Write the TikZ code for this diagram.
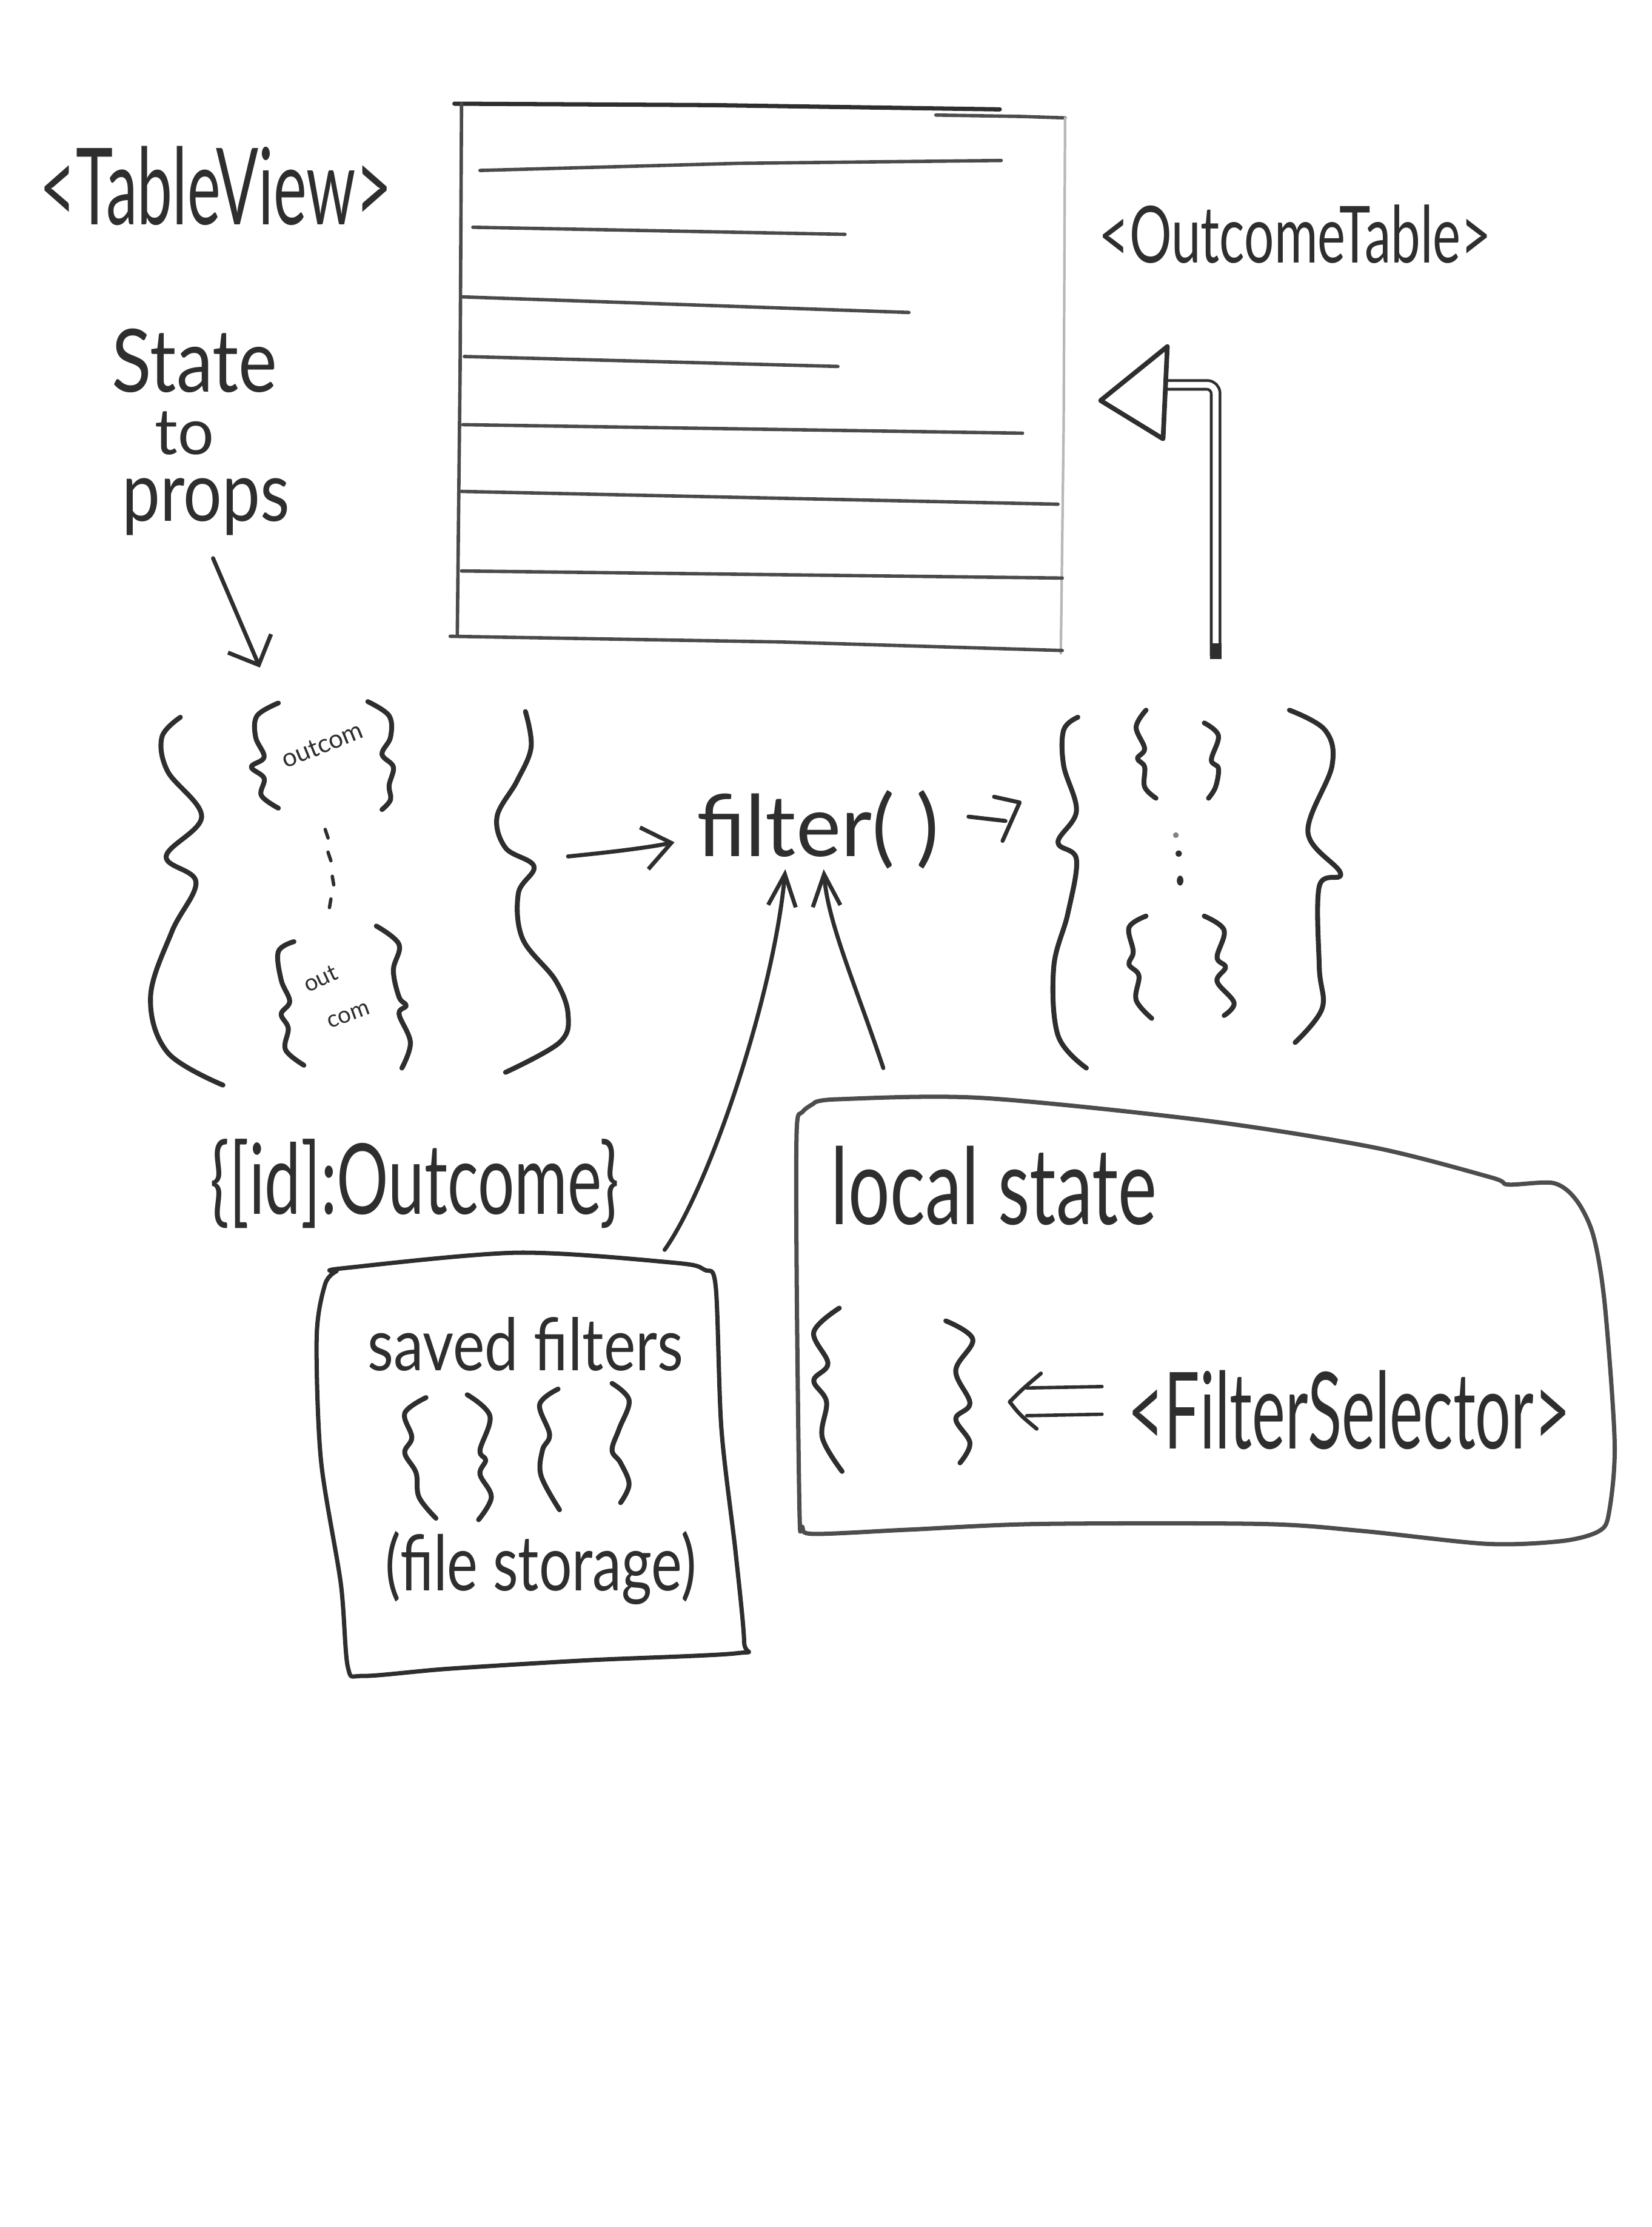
\documentclass[tikz,border=0pt]{standalone}
\usepackage{fontspec}
\usepackage{graphicx}
\setmainfont{Lato}
\usetikzlibrary{arrows.meta}
\definecolor{inkc}{HTML}{2E2E2E}
\definecolor{tablec}{HTML}{4A4A4A}
\definecolor{fadec}{HTML}{9A9A9A}
\newcommand{\hw}[3]{\fontsize{#1}{#1}\selectfont\scalebox{#2}[1]{#3}}
\tikzset{
  ink/.style={draw=inkc, line width=2pt, line cap=round, line join=round},
  bracepen/.style={ink, line width=2.3pt},
  tline/.style={draw=tablec, line width=1.6pt, line cap=round},
  txt/.style={text=inkc, inner sep=0pt, anchor=base},
  conn/.style={ink, line width=1.9pt},
  barb/.style={-{Straight Barb[length=#1]}},
}
\begin{document}
\begin{tikzpicture}[x=0.2343mm, y=-0.2343mm]
\useasboundingbox (0,0) rectangle (1163,1568);

% ---------------- table ----------------
\draw[tline, draw=inkc, line width=2pt] (320,73) -- (500,74) -- (704,77);
\draw[tline, draw=inkc!85] (659,81) -- (720,82) -- (750,83);
\draw[tline] (325,73) -- (324,260) -- (322,448);
\draw[tline, draw=fadec!70, line width=1.2pt] (750,83) -- (749,300) -- (747,460);
\draw[tline] (317,448) -- (550,452) -- (748,458);
\draw[tline] (338,120) -- (520,115) -- (705,113);
\draw[tline] (333,160) -- (595,165);
\draw[tline] (325,209) -- (640,220);
\draw[tline] (327,251) -- (590,258);
\draw[tline] (326,299) -- (720,305);
\draw[tline] (325,346) -- (745,355);
\draw[tline] (325,402) -- (748,407);

% ---------------- labels top ----------------
\node[txt] (tv) at (152,158) {\hw{50}{0.59}{<TableView>}};
\node[txt] (ot) at (912,185) {\hw{37}{0.67}{<OutcomeTable>}};
\node[txt] (st) at (137,276) {\hw{41}{0.84}{State}};
\node[txt] (to) at (130,320) {\hw{30}{1}{to}};
\node[txt] (pr) at (145,367) {\hw{39}{0.82}{props}};

\coordinate (paS) at (150,393);
\coordinate (paE) at (183,470);
\draw[conn, barb=11pt] (paS) -- (paE);

% ---------------- left map {id: outcome} ----------------
\draw[bracepen] plot[smooth, tension=0.6] coordinates {(127,505) (114,519) (118,543) (142,575) (117,603) (138,621) (121,656) (106,702) (118,741) (157,764)};
\draw[bracepen] plot[smooth, tension=0.6] coordinates {(370,501) (374,526) (364,550) (350,575) (356,597) (376,610) (365,629) (368,661) (391,690) (400,714) (394,734) (356,755)};
% inner top
\draw[bracepen] plot[smooth, tension=0.6] coordinates {(196,495) (181,504) (180,519) (186,533) (177,540) (186,548) (184,560) (196,569)};
\draw[bracepen] plot[smooth, tension=0.6] coordinates {(259,494) (274,504) (275,519) (269,531) (277,540) (274,553) (275,563) (269,570)};
\node[txt, rotate=22] (oc1) at (229,530) {\hw{12}{1}{outcom}};
% dots
\draw[ink, line width=1.6pt] (229,584) -- (231,590);
\draw[ink, line width=1.6pt] (231,600) -- (233,606);
\draw[ink, line width=1.6pt] (234,617) -- (235,623);
\draw[ink, line width=1.6pt] (233,633) -- (232,639);
% inner bottom
\draw[bracepen] plot[smooth, tension=0.6] coordinates {(207,663) (196,670) (198,690) (204,705) (198,714) (203,724) (201,739) (214,750)};
\draw[bracepen] plot[smooth, tension=0.6] coordinates {(265,652) (281,665) (277,683) (281,702) (286,708) (281,714) (289,734) (283,752)};
\node[txt, rotate=25] (oc2) at (228,694) {\hw{11}{1}{out}};
\node[txt, rotate=20] (oc3) at (247,719) {\hw{11}{1}{com}};

\node[txt] (idm) at (292,855) {\hw{46}{0.66}{\{[id]:Outcome\}}};

% ---------------- filter ----------------
\node[txt] (flt) at (576,603) {\hw{40}{1.0}{filter( )}};
\coordinate (lmE) at (400,603);
\coordinate (fW) at (475,593);
\draw[conn, -{Straight Barb[length=13pt,width=20pt]}] (lmE) .. controls (430,600) and (455,597) .. (fW);

\coordinate (dashS) at (682,575);
\coordinate (dashE) at (708,578);
\draw[conn] (dashS) -- (dashE);
\draw[conn] (700,561) -- (718,565) -- (706,592);

% ---------------- right output ----------------
\draw[bracepen] plot[smooth, tension=0.6] coordinates {(759,505) (749,514) (749,539) (758,571) (745,593) (758,605) (752,643) (742,681) (745,729) (765,752)};
\draw[bracepen] plot[smooth, tension=0.6] coordinates {(908,500) (933,514) (938,539) (921,586) (944,615) (929,624) (929,681) (931,710) (912,734)};
\draw[bracepen] plot[smooth, tension=0.6] coordinates {(807,500) (800,512) (806,527) (801,534) (806,540) (806,554) (814,562)};
\draw[bracepen] plot[smooth, tension=0.6] coordinates {(848,509) (858,518) (853,535) (858,541) (856,554) (851,562)};
\fill[inkc!60] (828,588) circle (2);
\fill[inkc] (830,601) circle (2.3);
\fill[inkc] (831,620) ellipse (2.3 and 3.5);
\draw[bracepen] plot[smooth, tension=0.6] coordinates {(807,645) (795,653) (798,670) (795,679) (802,687) (800,704) (811,717)};
\draw[bracepen] plot[smooth, tension=0.6] coordinates {(848,645) (862,655) (857,674) (863,681) (857,691) (869,706) (862,715)};

% hollow arrow to the table
\coordinate (oaS) at (856,462);
\coordinate (oaE) at (822,271);
\draw[draw=inkc, line width=1.3pt, double=white, double distance=2.8pt, rounded corners=4pt] (oaS) |- (oaE);
\draw[draw=inkc, line width=5.4pt] (856,453) -- (856,464);
\draw[ink, line width=2.2pt] (822,244) -- (775,282) -- (819,309) -- cycle;

% ---------------- saved filters box ----------------
\draw[ink] plot[smooth, tension=0.5] coordinates {(237,895) (241,893) (364,882) (474,889) (496,894) (504,906) (508,1006) (518,1093) (524,1156) (519,1164) (413,1169) (315,1175) (256,1180) (245,1174) (240,1115) (226,1028) (223,941) (229,904) (237,895)};
\node[txt] (sf) at (370,965) {\hw{34}{0.83}{saved filters}};
\draw[bracepen] plot[smooth, tension=0.6] coordinates {(300,984) (285,995) (290,1012) (285,1023) (293,1037) (295,1054) (307,1069)};
\draw[bracepen] plot[smooth, tension=0.6] coordinates {(329,982) (345,997) (338,1021) (342,1028) (338,1038) (346,1054) (337,1070)};
\draw[bracepen] plot[smooth, tension=0.6] coordinates {(393,978) (380,989) (387,1010) (382,1021) (381,1039) (394,1063)};
\draw[bracepen] plot[smooth, tension=0.6] coordinates {(431,974) (443,986) (436,1006) (431,1021) (437,1030) (443,1045) (437,1058)};
\node[txt] (fs) at (381,1120) {\hw{36}{0.76}{(file storage)}};

\coordinate (sfN) at (468,880);
\coordinate (fiA) at (553,612);
\draw[conn, -{Straight Barb[length=15pt,width=13pt]}] (sfN) .. controls (500,835) and (545,700) .. (fiA);

% ---------------- local state box ----------------
\draw[ink, draw=inkc!85] plot[smooth, tension=0.5] coordinates {(573,777) (589,774) (691,773) (849,789) (968,808) (1050,829) (1062,834) (1094,833) (1110,845) (1122,870) (1130,918) (1137,1016) (1133,1065) (1126,1078) (1100,1085) (1047,1087) (960,1078) (889,1073) (731,1073) (640,1077) (573,1080) (565,1075) (563,1065) (561,900) (561,796) (565,783) (573,777)};
\node[txt] (lst) at (700,862) {\hw{50}{0.69}{local state}};
\draw[bracepen] plot[smooth, tension=0.6] coordinates {(591,921) (573,938) (583,960) (573,972) (582,987) (579,1012) (593,1036)};
\draw[bracepen] plot[smooth, tension=0.6] coordinates {(666,930) (685,943) (673,965) (683,988) (673,999) (683,1016) (676,1030)};
\node[txt] (fsel) at (950,1020) {\hw{50}{0.59}{<FilterSelector>}};
\coordinate (fselW) at (776,986);
\coordinate (lsE) at (711,987);
\draw[ink, line width=1.6pt] ([yshift=-6.5]fselW) -- ([xshift=8, yshift=-6.5]lsE);
\draw[ink, line width=1.6pt] ([yshift=6.5]fselW) -- ([xshift=8, yshift=6.5]lsE);
\draw[ink, line width=1.8pt] (733,967) .. controls (720,978) .. (lsE) .. controls (718,996) .. (730,1006);

\coordinate (lsN) at (622,752);
\coordinate (fiB) at (580,612);
\draw[conn, -{Straight Barb[length=15pt,width=13pt]}] (lsN) .. controls (602,692) and (583,650) .. (fiB);

\end{tikzpicture}
\end{document}
